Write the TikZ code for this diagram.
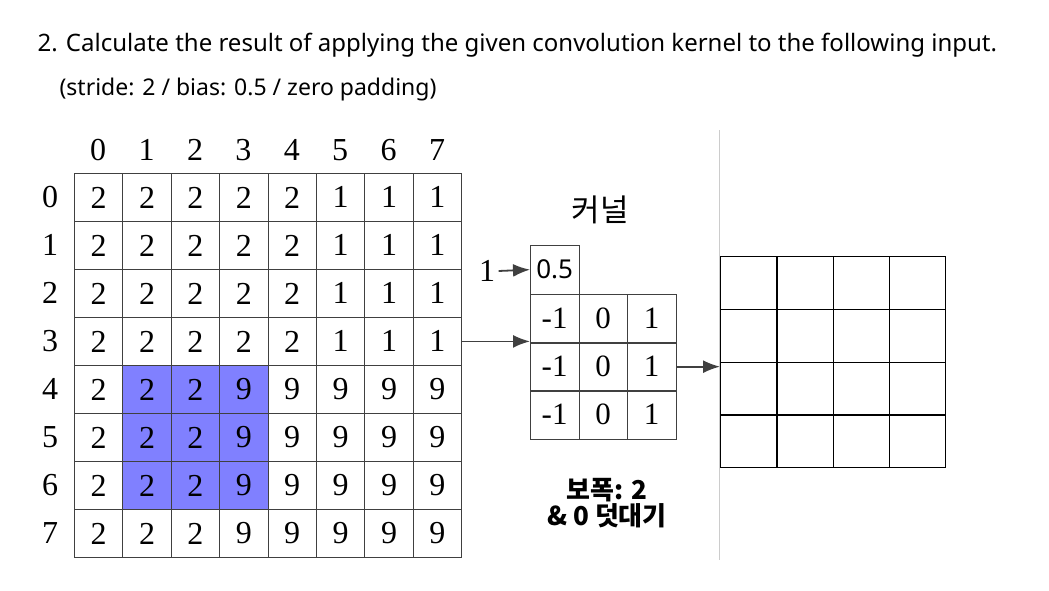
\documentclass[tikz,border=0pt]{standalone}
\usepackage{fontspec}
\usetikzlibrary{arrows.meta}
\setmainfont{Liberation Serif}
\newfontfamily\ttl{Noto Sans}
\newfontfamily\kr{Noto Sans CJK KR}
\begin{document}
\begin{tikzpicture}[x=1pt,y=-1pt,
  cellc/.style={draw=black!75,line width=0.8pt,minimum width=48.4pt,minimum height=48pt,inner sep=0,anchor=north west,font=\fontsize{32}{32}\selectfont},
  blu/.style={cellc,fill=blue!50!white},
  kc/.style={draw=black!75,line width=0.8pt,minimum width=48.5pt,minimum height=48.5pt,inner sep=0,anchor=north west,font=\fontsize{31}{31}\selectfont},
  lab/.style={font=\fontsize{32}{32}\selectfont},
  outc/.style={draw=black,line width=1.3pt,minimum width=56.25pt,minimum height=52.75pt,inner sep=0,anchor=north west},
  arr/.style={-{Latex[length=17pt,width=13pt]},line width=1.8pt,draw=black!75}]
\useasboundingbox (0,0) rectangle (1049,590);
\node[anchor=west,font=\ttl\fontsize{24}{24}\selectfont] (t1) at (34,45) {2. Calculate the result of applying the given convolution kernel to the following input.};
\node[anchor=west,font=\ttl\fontsize{23}{23}\selectfont] (t2) at (56,90) {(stride: 2 / bias: 0.5 / zero padding)};
\def\vals{{{2,2,2,2,2,1,1,1},{2,2,2,2,2,1,1,1},{2,2,2,2,2,1,1,1},{2,2,2,2,2,1,1,1},{2,2,2,9,9,9,9,9},{2,2,2,9,9,9,9,9},{2,2,2,9,9,9,9,9},{2,2,2,9,9,9,9,9}}}
\foreach \r in {0,...,7}{
  \node[lab] (rl\r) at (50,{197+48*\r}) {\r};
  \node[lab] (cl\r) at ({98.2+48.4*\r},150) {\r};
  \foreach \c in {0,...,7}{
    \pgfmathtruncatemacro\v{\vals[\r][\c]}
    \pgfmathsetmacro\isb{(\r>=4 && \r<=6 && \c>=1 && \c<=3) ? 1 : 0}
    \ifdim\isb pt>0.5pt
      \node[blu] (g\r\c) at ({74+48.4*\c},{173+48*\r}) {\v};
    \else
      \node[cellc] (g\r\c) at ({74+48.4*\c},{173+48*\r}) {\v};
    \fi
  }}
% kernel
\node[kc,font=\ttl\bfseries\fontsize{26}{26}\selectfont] (kb) at (530,245) {0.5};
\foreach \r in {0,1,2}{\foreach \c/\t in {0/-1,1/0,2/1}{
  \node[kc] (k\r\c) at ({530+48.5*\c},{294+48*\r}) {\t};}}
\node[lab] (one) at (487,271) {1};
\draw[arr] (one.east) -- (kb.west);
\node[font=\kr\fontsize{31}{31}\selectfont] (kn) at (600,210) {커널};
\node[font=\kr\bfseries\fontsize{26}{26}\selectfont,align=center] (st) at (607,503) {보폭: 2\\[0pt]\& 0 덧대기};
% divider
\draw[black!20,line width=0.8pt] (719,130) -- (719,560);
% output
\foreach \r in {0,...,3}{\foreach \c in {0,...,3}{
  \node[outc] (o\r\c) at ({720+56.25*\c},{256+52.75*\r}) {};}}
\draw[arr] (g37.east) -- (k10.west |- g37.east);
\draw[arr] (k12.east) -- (k12.east -| o20.west);
\end{tikzpicture}
\end{document}
